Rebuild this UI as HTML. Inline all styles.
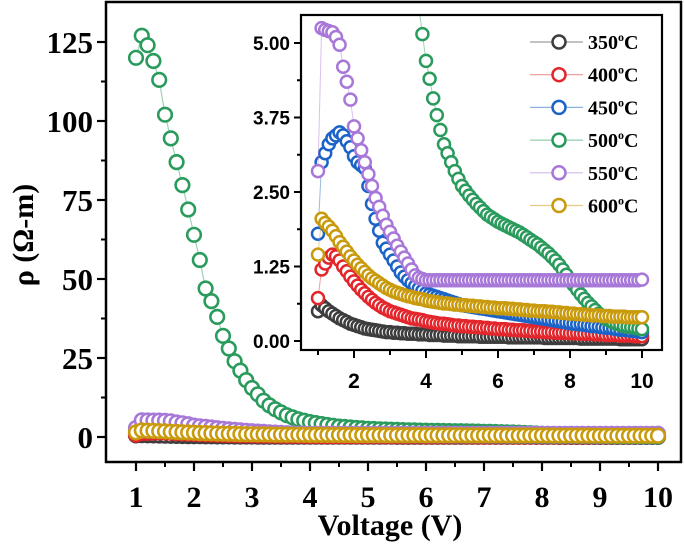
<!DOCTYPE html>
<html><head><meta charset="utf-8">
<style>
html,body{margin:0;padding:0;background:#fff;}
svg{display:block;}
</style></head>
<body>
<svg id="chart" width="685" height="554" viewBox="0 0 685 554" xmlns="http://www.w3.org/2000/svg">
<defs><clipPath id="insetClip"><rect x="301" y="15" width="361" height="335"/></clipPath>
<clipPath id="mainClip"><rect x="106" y="2" width="575" height="460"/></clipPath></defs>
<g id="main-series" clip-path="url(#mainClip)"></g>
<rect x="106" y="2" width="575" height="460" fill="none" stroke="#000" stroke-width="2.5"/>
<g id="main-axes"></g>
<rect x="301" y="15" width="361" height="335" fill="#fff" stroke="none"/>
<g id="inset-series" clip-path="url(#insetClip)"></g>
<rect x="301" y="15" width="361" height="335" fill="none" stroke="#000" stroke-width="2.2"/>
<g id="inset-axes"></g>
<g id="legend"></g>
<text x="390" y="535" text-anchor="middle" font-family="Liberation Serif, serif" font-weight="bold" font-size="30">Voltage (V)</text>
<text transform="translate(33,235) rotate(-90)" text-anchor="middle" font-family="Liberation Serif, serif" font-weight="bold" font-size="30">ρ (Ω-m)</text>
</svg>
<script>
const voltages = [1.0,1.1,1.2,1.3,1.4,1.5,1.6,1.7,1.8,1.9,2.0,2.1,2.2,2.3,2.4,2.5,2.6,2.7,2.8,2.9,3.0,3.1,3.2,3.3,3.4,3.5,3.6,3.7,3.8,3.9,4.0,4.1,4.2,4.3,4.4,4.5,4.6,4.7,4.8,4.9,5.0,5.1,5.2,5.3,5.4,5.5,5.6,5.7,5.8,5.9,6.0,6.1,6.2,6.3,6.4,6.5,6.6,6.7,6.8,6.9,7.0,7.1,7.2,7.3,7.4,7.5,7.6,7.7,7.8,7.9,8.0,8.1,8.2,8.3,8.4,8.5,8.6,8.7,8.8,8.9,9.0,9.1,9.2,9.3,9.4,9.5,9.6,9.7,9.8,9.9,10.0];
const rho350 = [.50,.60,.55,.50,.46,.42,.38,.35,.32,.29,.27,.25,.23,.21,.20,.19,.18,.17,.16,.15,.15,.14,.14,.13,.13,.12,.12,.12,.11,.11,.11,.10,.10,.10,.10,.09,.09,.09,.09,.08,.08,.08,.08,.08,.08,.07,.07,.07,.07,.07,.07,.07,.07,.06,.06,.06,.06,.06,.06,.06,.06,.06,.06,.05,.05,.05,.05,.05,.05,.05,.05,.05,.05,.04,.04,.04,.04,.04,.04,.04,.04,.04,.04,.04,.03,.03,.03,.03,.03,.03,.03];
const rho400 = [.72,1.20,1.30,1.40,1.45,1.42,1.35,1.25,1.17,1.08,1.00,.93,.86,.80,.74,.69,.64,.60,.56,.53,.50,.48,.46,.44,.42,.40,.38,.37,.36,.35,.33,.32,.31,.30,.29,.29,.28,.27,.26,.26,.25,.25,.24,.24,.23,.23,.22,.22,.21,.21,.20,.20,.20,.19,.19,.18,.18,.18,.17,.17,.16,.16,.16,.15,.15,.15,.14,.14,.14,.14,.13,.13,.13,.12,.12,.12,.12,.11,.11,.11,.10,.10,.10,.10,.09,.09,.09,.09,.08,.08,.08];
const rho450 = [1.80,3.00,3.15,3.30,3.40,3.45,3.50,3.45,3.35,3.25,3.10,3.00,2.95,2.90,2.60,2.30,2.05,1.85,1.65,1.55,1.45,1.35,1.25,1.15,1.08,1.02,.97,.92,.88,.84,.80,.78,.76,.74,.72,.70,.68,.66,.64,.62,.60,.59,.58,.57,.56,.55,.54,.53,.52,.51,.50,.49,.48,.47,.46,.45,.44,.43,.42,.41,.40,.39,.38,.37,.36,.35,.34,.33,.32,.31,.30,.29,.28,.28,.27,.26,.25,.25,.24,.23,.22,.22,.21,.20,.19,.19,.18,.17,.17,.16,.15];
const rho500 = [120,127,124,119,113,102,94.5,87,79.7,72,64,56,47,43,38,32,28,24,21,18,15.5,13.5,11.5,10,8.8,7.8,6.9,6.2,5.6,5.15,4.7,4.4,4.07,3.79,3.54,3.3,3.15,3.0,2.85,2.72,2.6,2.52,2.44,2.37,2.3,2.24,2.18,2.12,2.08,2.04,2.0,1.97,1.94,1.91,1.88,1.85,1.82,1.78,1.74,1.70,1.66,1.62,1.57,1.52,1.47,1.41,1.35,1.28,1.20,1.11,1.02,.94,.86,.78,.71,.64,.58,.52,.46,.41,.37,.34,.31,.29,.27,.25,.24,.23,.22,.21,.20];
const rho550 = [2.85,5.25,5.22,5.20,5.18,5.10,4.97,4.60,4.35,4.05,3.60,3.40,3.20,3.00,2.80,2.60,2.40,2.25,2.10,1.95,1.83,1.72,1.60,1.50,1.40,1.30,1.20,1.10,1.06,1.04,1.02,1.02,1.02,1.02,1.02,1.02,1.02,1.02,1.02,1.02,1.02,1.02,1.02,1.02,1.02,1.02,1.02,1.02,1.02,1.02,1.02,1.02,1.02,1.02,1.02,1.02,1.02,1.02,1.02,1.02,1.02,1.02,1.02,1.02,1.02,1.02,1.02,1.02,1.02,1.02,1.02,1.02,1.02,1.02,1.02,1.02,1.02,1.02,1.02,1.02,1.02,1.02,1.02,1.02,1.02,1.02,1.02,1.02,1.02,1.02,1.03];
const rho600 = [1.45,2.05,1.98,1.92,1.85,1.76,1.66,1.58,1.50,1.42,1.35,1.28,1.22,1.16,1.10,1.05,1.01,.97,.93,.89,.86,.83,.81,.79,.77,.75,.74,.72,.71,.70,.68,.67,.66,.65,.64,.63,.63,.62,.61,.61,.60,.60,.59,.59,.58,.58,.57,.57,.56,.56,.55,.55,.55,.54,.54,.53,.53,.52,.52,.51,.51,.50,.50,.50,.49,.49,.48,.48,.47,.47,.46,.46,.45,.45,.44,.44,.43,.43,.43,.42,.42,.42,.41,.41,.41,.41,.40,.40,.40,.40,.40];
const seriesLabels = ["350","400","450","500","550","600"];
const seriesColors = ["#3d3d3d","#e2262c","#1c63c8","#2a9b5c","#a878d8","#c99a0c"];
const mainYTicks = [0,25,50,75,100,125];
const mainXTicks = [1,2,3,4,5,6,7,8,9,10];
const insetYTicks = ["0.00","1.25","2.50","3.75","5.00"];
const insetXTicks = [2,4,6,8,10];

const NS="http://www.w3.org/2000/svg";
const allSeries=[rho350,rho400,rho450,rho500,rho550,rho600];
function mk(tag,attrs,parent){const e=document.createElementNS(NS,tag);for(const k in attrs)e.setAttribute(k,attrs[k]);parent.appendChild(e);return e;}
const mx=v=>136+(v-1)*58;
const my=v=>437-v*3.16;
const ix=v=>318+(v-1)*36;
const iy=v=>341-v*59.6;

function drawSeries(g,xf,yf,r,sw,lw){
  allSeries.forEach((s,si)=>{
    const sg=mk('g',{},g);
    
    
    const pts=voltages.map((v,i)=>xf(v).toFixed(1)+','+yf(s[i]).toFixed(1)).join(' ');
    const pl=mk('polyline',{points:pts,fill:'none',stroke:seriesColors[si],'stroke-width':lw,'stroke-opacity':0.45},sg);
    
    
    voltages.forEach((v,i)=>{
      const c=mk('circle',{cx:xf(v).toFixed(1),cy:yf(s[i]).toFixed(1),r:r,fill:'#fff',stroke:seriesColors[si],'stroke-width':sw},sg);
      
      
    });
  });
}
drawSeries(document.getElementById('main-series'),mx,my,6.8,2.6,1.2);
drawSeries(document.getElementById('inset-series'),ix,iy,6,2.5,1);

const ma=document.getElementById('main-axes');
mainYTicks.forEach(t=>{
  mk('line',{x1:97,x2:106,y1:my(t),y2:my(t),stroke:'#000','stroke-width':2.2},ma);
  const tx=mk('text',{x:93,y:my(t)+11,'text-anchor':'end','font-family':'Liberation Serif, serif','font-weight':'bold','font-size':31},ma);
  tx.textContent=t;
  
  
  if(t<125) mk('line',{x1:101,x2:106,y1:my(t+12.5),y2:my(t+12.5),stroke:'#000','stroke-width':2},ma);
});
mainXTicks.forEach(t=>{
  mk('line',{x1:mx(t),x2:mx(t),y1:462,y2:471,stroke:'#000','stroke-width':2.2},ma);
  const tx=mk('text',{x:mx(t),y:507,'text-anchor':'middle','font-family':'Liberation Serif, serif','font-weight':'bold','font-size':30},ma);
  tx.textContent=t;
  
  
  if(t<10) mk('line',{x1:mx(t+0.5),x2:mx(t+0.5),y1:462,y2:467,stroke:'#000','stroke-width':2},ma);
});

const ia=document.getElementById('inset-axes');
insetYTicks.forEach(t=>{
  const v=parseFloat(t);
  mk('line',{x1:294,x2:301,y1:iy(v),y2:iy(v),stroke:'#000','stroke-width':2},ia);
  const tx=mk('text',{x:290,y:iy(v)+7,'text-anchor':'end','font-family':'Liberation Sans, sans-serif','font-weight':'bold','font-size':19},ia);
  tx.textContent=t;
  
  
  if(v<5) mk('line',{x1:297,x2:301,y1:iy(v+0.625),y2:iy(v+0.625),stroke:'#000','stroke-width':2},ia);
});
[1,3,5,7,9].forEach(t=>mk('line',{x1:ix(t),x2:ix(t),y1:350,y2:355,stroke:'#000','stroke-width':2},ia));
insetXTicks.forEach(t=>{
  mk('line',{x1:ix(t),x2:ix(t),y1:350,y2:358,stroke:'#000','stroke-width':2},ia);
  const tx=mk('text',{x:ix(t),y:388,'text-anchor':'middle','font-family':'Liberation Sans, sans-serif','font-weight':'bold','font-size':21},ia);
  tx.textContent=t;
  
  
});

const lg=document.getElementById('legend');
seriesLabels.forEach((l,i)=>{
  const y=42+i*32.7;
  const g=mk('g',{},lg);
  
  
  mk('line',{x1:530,x2:583,y1:y,y2:y,stroke:seriesColors[i],'stroke-width':1.2,'stroke-opacity':0.5},g);
  mk('circle',{cx:559,cy:y,r:6.5,fill:'#fff',stroke:seriesColors[i],'stroke-width':2.5},g);
  const tx=mk('text',{x:588,y:y+7,'font-family':'Liberation Serif, serif','font-weight':'bold','font-size':20},g);
  tx.innerHTML=l+'<tspan font-size="12" dy="-8">o</tspan><tspan dy="8">C</tspan>';
});
</script>
</body></html>
